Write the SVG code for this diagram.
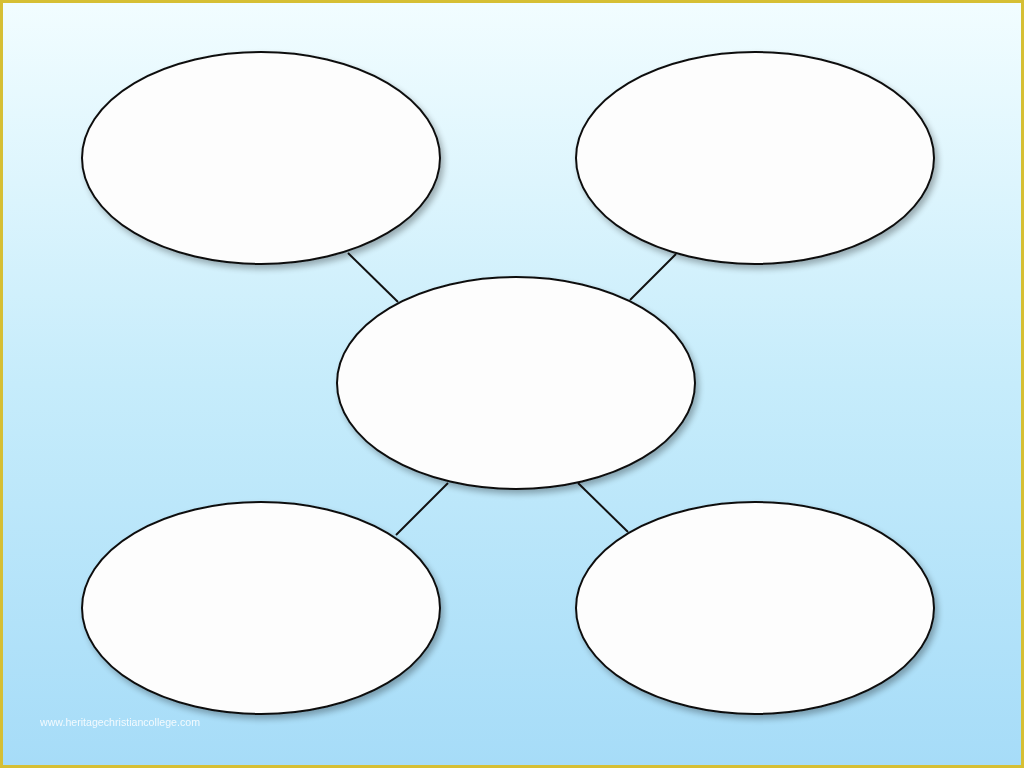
<svg xmlns="http://www.w3.org/2000/svg" width="1024" height="768" viewBox="0 0 1024 768">
<defs>
<linearGradient id="bg" x1="0" y1="0" x2="0" y2="1">
<stop offset="0" stop-color="#f2fdff"/>
<stop offset="0.5" stop-color="#c6ecfb"/>
<stop offset="1" stop-color="#a6dcf8"/>
</linearGradient>
<filter id="sh" x="-10%" y="-10%" width="125%" height="130%">
<feGaussianBlur in="SourceAlpha" stdDeviation="3"/>
<feOffset dx="3" dy="4" result="b"/>
<feComponentTransfer><feFuncA type="linear" slope="0.3"/></feComponentTransfer>
<feMerge><feMergeNode/><feMergeNode in="SourceGraphic"/></feMerge>
</filter>
</defs>
<style>
.node{fill:#fdfdfd;stroke:#111;stroke-width:2;filter:url(#sh)}
.conn{stroke:#111;stroke-width:2;fill:none}
.wm{font-family:"Liberation Sans",Arial,sans-serif;font-size:10.6px;fill:#ffffff;opacity:0.85}
</style>
<rect x="0" y="0" width="1024" height="768" fill="url(#bg)"/>
<rect x="1.5" y="1.5" width="1021" height="765" fill="none" stroke="#d6bf34" stroke-width="3"/>
<g id="connectors">
<line class="conn" x1="348" y1="253" x2="398" y2="302"/>
<line class="conn" x1="676" y1="254" x2="630" y2="300"/>
<line class="conn" x1="448" y1="483" x2="396" y2="535"/>
<line class="conn" x1="578" y1="483" x2="628" y2="532"/>
</g>
<g id="node-top-left"><ellipse class="node" cx="261" cy="158" rx="179" ry="106"/></g>
<g id="node-top-right"><ellipse class="node" cx="755" cy="158" rx="179" ry="106"/></g>
<g id="node-center"><ellipse class="node" cx="516" cy="383" rx="179" ry="106"/></g>
<g id="node-bottom-left"><ellipse class="node" cx="261" cy="608" rx="179" ry="106"/></g>
<g id="node-bottom-right"><ellipse class="node" cx="755" cy="608" rx="179" ry="106"/></g>
<text class="wm" x="40" y="726" textLength="160" lengthAdjust="spacingAndGlyphs">www.heritagechristiancollege.com</text>
</svg>
